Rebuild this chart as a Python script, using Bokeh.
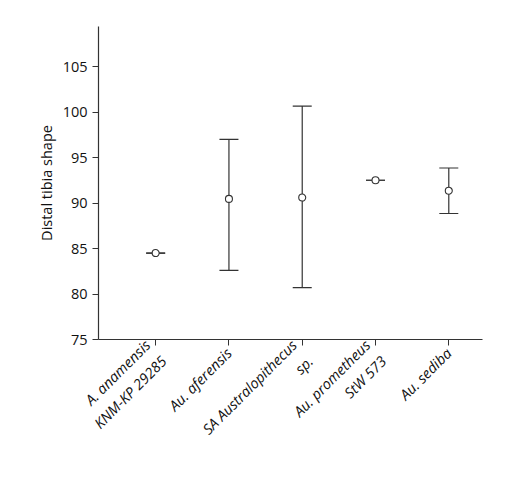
import math

from bokeh.embed import file_html
from bokeh.models import ColumnDataSource, FixedTicker, Range1d, TeeHead, Whisker
from bokeh.plotting import figure
from bokeh.resources import INLINE

# data
groups = [
    "A. anamensis\nKNM-KP 29285",
    "Au. aferensis",
    "SA Australopithecus\nsp.",
    "Au. prometheus\nStW 573",
    "Au. sediba",
]
means = [84.5, 90.45, 90.6, 92.5, 91.35]
lower = [84.5, 82.6, 80.7, 92.5, 88.85]
upper = [84.5, 97.0, 100.65, 92.5, 93.85]
y_ticks = [75, 80, 85, 90, 95, 100, 105]

FONT = "Open Sans"
INK = "#333333"

xs = list(range(len(groups)))
source = ColumnDataSource(data=dict(x=xs, mean=means, lower=lower, upper=upper))

p = figure(
    width=504,
    height=480,
    x_range=Range1d(-0.78, 4.46),
    y_range=Range1d(75, 109.4),
    output_backend="svg",
    toolbar_location=None,
    min_border_left=98,
    min_border_top=26,
    min_border_right=22,
    min_border_bottom=141,
)
p.outline_line_color = None
p.grid.visible = False
p.background_fill_color = "white"

whisker = Whisker(
    base="x",
    lower="lower",
    upper="upper",
    source=source,
    line_color=INK,
    line_width=1.2,
    upper_head=TeeHead(size=19, line_color=INK, line_width=1.2),
    lower_head=TeeHead(size=19, line_color=INK, line_width=1.2),
)
p.add_layout(whisker)

p.scatter(
    x="x",
    y="mean",
    source=source,
    marker="circle",
    size=7,
    fill_color="white",
    line_color=INK,
    line_width=1.1,
)

# y axis
p.yaxis.ticker = FixedTicker(ticks=y_ticks)
p.yaxis.axis_label = "Distal tibia shape"
p.yaxis.axis_label_text_font = FONT
p.yaxis.axis_label_text_font_size = "14.5px"
p.yaxis.axis_label_text_font_style = "normal"
p.yaxis.axis_label_text_color = "#111111"
p.yaxis.axis_label_standoff = 4

# x axis (species names are mostly italic in the reference)
p.xaxis.ticker = FixedTicker(ticks=xs)
p.xaxis.major_label_overrides = {i: g for i, g in enumerate(groups)}
p.xaxis.major_label_orientation = math.pi / 4

for ax in (p.xaxis, p.yaxis):
    ax.minor_tick_line_color = None
    ax.major_tick_in = 0
    ax.major_tick_out = 6
    ax.major_tick_line_color = INK
    ax.axis_line_color = INK
    ax.axis_line_width = 1.2
    ax.major_label_text_font = FONT
    ax.major_label_text_font_size = "14.5px"
    ax.major_label_text_color = "#111111"
    ax.major_label_standoff = 5

p.xaxis.major_label_text_font_style = "italic"

open("out.html", "w").write(file_html(p, INLINE))
